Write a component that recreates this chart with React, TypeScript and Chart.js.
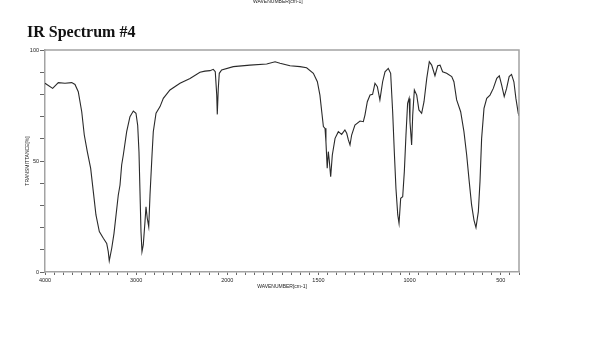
import React, { useEffect, useRef } from "react";
import { Chart, registerables } from "chart.js";

Chart.register(...registerables);

const titleText = "IR Spectrum #4";
const headerText = "WAVENUMBER[cm-1]";
const xAxisTitle = "WAVENUMBER[cm-1]";
const yAxisTitle = "TRANSMITTANCE[%]";

const wavenumbers = [
  4000, 3916, 3854, 3781, 3707, 3671, 3635, 3597, 3569, 3536, 3499, 3470, 3441, 3404, 3360, 3323, 3306, 3295,
  3268, 3243, 3196, 3177, 3159, 3141, 3104, 3068, 3031, 3002, 2983, 2969, 2958, 2947, 2936, 2922, 2903, 2892,
  2878, 2862, 2848, 2826, 2812, 2782, 2738, 2702, 2629, 2519, 2409, 2300, 2245, 2190, 2154, 2132, 2116, 2110,
  2099, 2088, 2062, 1967, 1876, 1784, 1738, 1711, 1656, 1601, 1565, 1528, 1506, 1492, 1482, 1473, 1464, 1459,
  1452, 1446, 1441, 1433, 1424, 1409, 1391, 1373, 1355, 1345, 1336, 1327, 1318, 1300, 1272, 1254, 1245, 1232,
  1217, 1203, 1190, 1177, 1163, 1148, 1135, 1117, 1104, 1093, 1084, 1075, 1065, 1058, 1049, 1038, 1029, 1020,
  1011, 1003, 998, 989, 983, 974, 961, 949, 934, 921, 906, 892, 879, 861, 846, 833, 819, 797, 769, 757, 742,
  720, 702, 687, 673, 660, 647, 636, 623, 614, 605, 592, 577, 559, 541, 522, 508, 495, 481, 468, 454, 441, 428,
  417, 404, 400,
];

const transmittance = [
  85, 82.7, 85.3, 85, 85.3, 84.5, 81.2, 72.2, 61.7, 54.2, 46.7, 36.2, 25.7, 18.2, 15.2, 12.9, 9.2, 5.0,
  10.7, 17.4, 34.7, 39.2, 48.2, 52.7, 63.2, 70, 72.5, 71.5, 66, 54.2, 36.2, 18.2, 9.2, 12.2, 22.7, 29.4,
  24.2, 20.4, 34.7, 52.7, 63.2, 71.5, 74.5, 78.2, 82, 85, 87.2, 90, 90.5, 90.7, 91.3, 90.2, 79.7, 71.0,
  82.7, 89.5, 91, 92.5, 93.2, 93.7, 94.7, 94, 92.9, 92.5, 92, 89.5, 85.7, 79.7, 72.2, 65.5, 64.7, 58.7,
  46.7, 54.2, 50.5, 42.9, 52.7, 60.2, 63.2, 62, 64, 62.5, 59.5, 57.2, 61.7, 66.2, 68, 67.7, 70.7, 76.7,
  79.7, 80, 85, 83.5, 77.5, 85.7, 90.2, 91.7, 89.5, 72.2, 54.2, 37.7, 25.7, 21.9, 33.2, 33.9, 45.2, 61.7,
  76, 78.2, 67.7, 57.2, 70.7, 82, 79.7, 73, 71.5, 76.7, 87.2, 94.7, 93.2, 88.4, 92.9, 93.2, 90.2, 89.5, 88, 85.7, 77.5,
  72.2, 63.2, 52.7, 40.7, 30.2, 23.4, 20, 27.2, 40.7, 60.2, 73.7, 78.2, 79.7, 82.7, 87.2, 88.4, 84.2, 79, 82.7, 88, 89, 85.7,
  78.2, 71.5, 70.3,
];

const xTickLabels = [4000, 3000, 2000, 1500, 1000, 500];
const yTickLabels = [0, 50, 100];

// IR spectra use a split scale: 4000-2000 compressed 2x relative to 2000-400.
const toAxis = (w: number) => (w >= 2000 ? (4000 - w) / 2 : 1000 + (2000 - w));
const fromAxis = (u: number) => (u <= 1000 ? 4000 - 2 * u : 2000 - (u - 1000));

const boxPlugin = {
  id: "plotBox",
  afterDraw(chart: any) {
    const { ctx, chartArea } = chart;
    const { left, top, right, bottom } = chartArea;
    ctx.save();
    ctx.strokeStyle = "#a3a3a3";
    ctx.lineWidth = 1.5;
    ctx.beginPath();
    ctx.moveTo(left, top);
    ctx.lineTo(right, top);
    ctx.lineTo(right, bottom);
    ctx.stroke();
    ctx.restore();
  },
};

export default function App() {
  const canvasRef = useRef<HTMLCanvasElement | null>(null);

  useEffect(() => {
    if (!canvasRef.current) return;
    const points = wavenumbers.map((w, i) => ({ x: toAxis(w), y: transmittance[i] }));
    const tickFont = { family: "'Liberation Sans', Arial, sans-serif", size: 5.5 };
    const chart = new Chart(canvasRef.current, {
      type: "line",
      data: {
        datasets: [
          {
            data: points,
            borderColor: "#2a2a2a",
            borderWidth: 1.1,
            pointRadius: 0,
            tension: 0,
            fill: false,
          },
        ],
      },
      plugins: [boxPlugin],
      options: {
        responsive: false,
        animation: false,
        layout: { padding: { left: 27, right: 78, top: 0, bottom: 49 } },
        plugins: {
          legend: { display: false },
          tooltip: { enabled: false },
          title: {
            display: true,
            text: titleText,
            align: "start",
            color: "#111",
            font: { family: "'Liberation Serif', 'Times New Roman', serif", size: 16, weight: "bold", lineHeight: 1.2 },
            padding: { top: 23, bottom: 7.8 },
          },
        },
        scales: {
          x: {
            type: "linear",
            min: 0,
            max: 2600,
            afterFit(scale: any) {
              scale.height = 20;
            },
            border: { display: true, color: "#a3a3a3", width: 1.5 },
            grid: { display: true, drawOnChartArea: false, drawTicks: true, tickLength: 3, color: "#666", lineWidth: 1 },
            ticks: {
              stepSize: 50,
              autoSkip: false,
              maxRotation: 0,
              minRotation: 0,
              padding: 2,
              color: "#222",
              font: tickFont,
              callback: (value: any) => {
                const w = Math.round(fromAxis(Number(value)));
                return xTickLabels.includes(w) ? String(w) : "";
              },
            },
            title: {
              display: true,
              text: xAxisTitle,
              color: "#222",
              font: { family: "'Liberation Sans', Arial, sans-serif", size: 5, lineHeight: 1.2 },
              padding: { top: 0, bottom: 2 },
            },
          },
          y: {
            min: 0,
            max: 100,
            afterFit(scale: any) {
              scale.width = 18;
            },
            border: { display: true, color: "#a3a3a3", width: 1.5 },
            grid: { display: true, drawOnChartArea: false, drawTicks: true, tickLength: 5, color: "#666", lineWidth: 1 },
            ticks: {
              stepSize: 10,
              autoSkip: false,
              padding: 1,
              color: "#222",
              font: tickFont,
              callback: (value: any) => (yTickLabels.includes(Number(value)) ? String(value) : ""),
            },
            title: {
              display: true,
              text: yAxisTitle,
              color: "#222",
              font: { family: "'Liberation Sans', Arial, sans-serif", size: 5, lineHeight: 1.2 },
              padding: { top: -2, bottom: 0 },
            },
          },
        },
      },
    } as any);
    return () => chart.destroy();
  }, []);

  return (
    <div style={{ position: "fixed", left: 0, top: 0, width: 597, height: 341, background: "#fff", overflow: "hidden" }}>
      <div
        style={{
          position: "absolute",
          left: 253,
          top: -2,
          fontFamily: "'Liberation Sans', Arial, sans-serif",
          fontSize: 5,
          color: "#222",
          whiteSpace: "nowrap",
        }}
      >
        {headerText}
      </div>
      <canvas ref={canvasRef} width={597} height={341} style={{ display: "block" }} />
    </div>
  );
}
